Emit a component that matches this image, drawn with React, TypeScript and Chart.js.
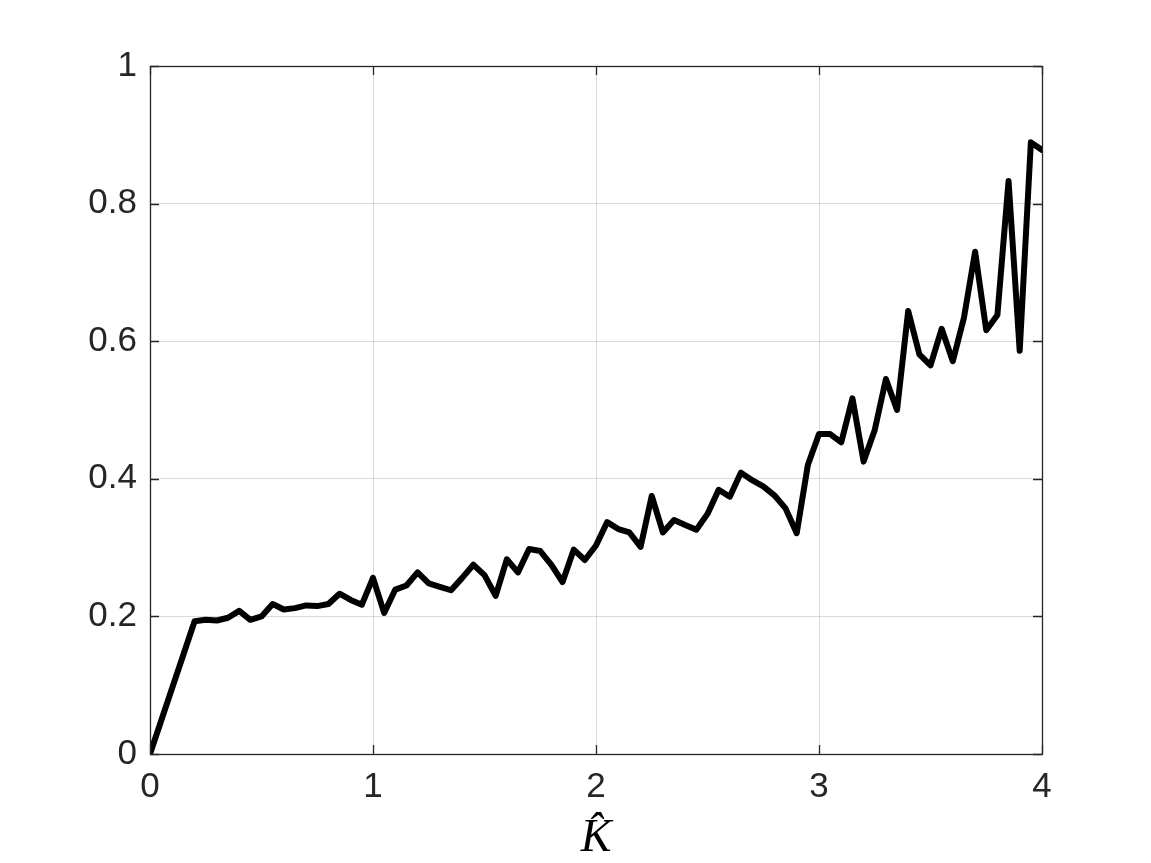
import * as React from 'react';
import { useEffect, useRef } from 'react';
import { Chart, registerables } from 'chart.js';

Chart.register(...registerables);

// K-hat values (x) and the measured curve (y)
const kHat = [
  0, 0.2, 0.25, 0.3, 0.35, 0.4, 0.45, 0.5, 0.55, 0.6, 0.65, 0.7, 0.75, 0.8, 0.85, 0.9, 0.95,
  1, 1.05, 1.1, 1.15, 1.2, 1.25, 1.3, 1.35, 1.4, 1.45, 1.5, 1.55, 1.6, 1.65, 1.7, 1.75, 1.8, 1.85, 1.9, 1.95,
  2, 2.05, 2.1, 2.15, 2.2, 2.25, 2.3, 2.35, 2.4, 2.45, 2.5, 2.55, 2.6, 2.65, 2.7, 2.75, 2.8, 2.85, 2.9, 2.95,
  3, 3.05, 3.1, 3.15, 3.2, 3.25, 3.3, 3.35, 3.4, 3.45, 3.5, 3.55, 3.6, 3.65, 3.7, 3.75, 3.8, 3.85, 3.9, 3.95,
  4,
];
const values = [
  0, 0.193, 0.195, 0.194, 0.198, 0.208, 0.195, 0.2, 0.218, 0.21, 0.212, 0.216, 0.215, 0.218, 0.233, 0.224, 0.217,
  0.256, 0.205, 0.239, 0.245, 0.264, 0.248, 0.243, 0.238, 0.256, 0.275, 0.26, 0.23, 0.283, 0.264, 0.298, 0.295, 0.275, 0.25, 0.297, 0.282,
  0.303, 0.337, 0.327, 0.322, 0.301, 0.375, 0.322, 0.34, 0.333, 0.326, 0.349, 0.384, 0.374, 0.409, 0.398, 0.389, 0.376, 0.357, 0.321, 0.42,
  0.465, 0.465, 0.453, 0.517, 0.425, 0.471, 0.545, 0.5, 0.644, 0.581, 0.565, 0.618, 0.571, 0.634, 0.73, 0.616, 0.638, 0.833, 0.586, 0.889,
  0.878,
];
const xTicks = [0, 1, 2, 3, 4];
const yTicks = [0, 0.2, 0.4, 0.6, 0.8, 1];
const yTickLabels = ['0', '0.2', '0.4', '0.6', '0.8', '1'];
const xTitle = 'K\u0302';

const AXIS = '#262626';

// box around the axes with ticks pointing inward on all four sides
const boxPlugin = {
  id: 'box',
  afterDraw(chart) {
    const { ctx, chartArea: a, scales } = chart;
    const len = 9;
    ctx.save();
    ctx.strokeStyle = AXIS;
    ctx.lineWidth = 1.3;
    ctx.beginPath();
    xTicks.forEach(v => {
      const px = Math.round(scales.x.getPixelForValue(v)) + 0.5;
      ctx.moveTo(px, a.bottom); ctx.lineTo(px, a.bottom - len);
      ctx.moveTo(px, a.top); ctx.lineTo(px, a.top + len);
    });
    yTicks.forEach(v => {
      const py = Math.round(scales.y.getPixelForValue(v)) + 0.5;
      ctx.moveTo(a.left, py); ctx.lineTo(a.left + len, py);
      ctx.moveTo(a.right, py); ctx.lineTo(a.right - len, py);
    });
    ctx.stroke();
    ctx.strokeRect(Math.round(a.left) + 0.5, Math.round(a.top) + 0.5, Math.round(a.right - a.left), Math.round(a.bottom - a.top));
    ctx.restore();
  },
};

export default function App() {
  const canvasRef = useRef(null);

  useEffect(() => {
    document.body.style.margin = '0';
    const tickFont = { family: "'Liberation Sans', Arial, sans-serif", size: 35 };
    const chart = new Chart(canvasRef.current, {
      type: 'line',
      data: {
        datasets: [{
          data: kHat.map((k, i) => ({ x: k, y: values[i] })),
          borderColor: '#000000',
          borderWidth: 6,
          borderJoinStyle: 'round',
          borderCapStyle: 'round',
          pointRadius: 0,
          tension: 0,
          fill: false,
        }],
      },
      options: {
        animation: false,
        responsive: false,
        devicePixelRatio: 1,
        layout: { padding: { top: 66, right: 109, left: 0, bottom: 0 } },
        plugins: { legend: { display: false }, tooltip: { enabled: false } },
        scales: {
          x: {
            type: 'linear',
            min: 0,
            max: 4,
            afterBuildTicks: (s) => { s.ticks = xTicks.map(v => ({ value: v })); },
            afterFit: (s) => { s.height = 109; },
            ticks: { color: AXIS, font: tickFont, padding: 12, maxRotation: 0, callback: (v) => String(v) },
            grid: { color: 'rgba(0,0,0,0.14)', lineWidth: 1, drawTicks: false },
            border: { display: false },
            title: {
              display: true,
              text: xTitle,
              color: '#000000',
              font: { family: "'Liberation Serif', 'Times New Roman', serif", size: 46, style: 'italic', lineHeight: 1 },
              padding: { top: 0, bottom: 1 },
            },
          },
          y: {
            type: 'linear',
            min: 0,
            max: 1,
            afterBuildTicks: (s) => { s.ticks = yTicks.map(v => ({ value: v })); },
            afterFit: (s) => { s.width = 150; },
            ticks: {
              color: AXIS,
              font: tickFont,
              padding: 13,
              callback: (v) => yTickLabels[yTicks.indexOf(Number(v))] ?? '',
            },
            grid: { color: 'rgba(0,0,0,0.14)', lineWidth: 1, drawTicks: false },
            border: { display: false },
          },
        },
      },
      plugins: [boxPlugin],
    });
    return () => chart.destroy();
  }, []);

  return (
    <div style={{ position: 'absolute', left: 0, top: 0, width: 1151, height: 863, background: '#ffffff' }}>
      <canvas ref={canvasRef} width={1151} height={863} />
    </div>
  );
}
